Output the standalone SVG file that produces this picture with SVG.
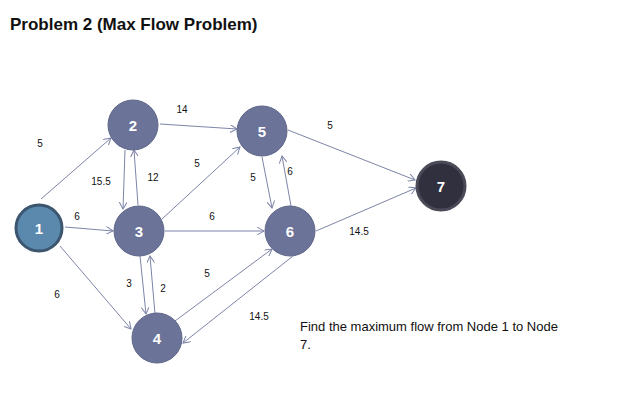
<svg xmlns="http://www.w3.org/2000/svg" width="641" height="407" viewBox="0 0 641 407">
<defs>
<marker id="a" markerWidth="8" markerHeight="8" refX="7" refY="4" orient="auto" markerUnits="userSpaceOnUse"><path d="M0,0 L7,4 L0,8" fill="none" stroke="#7d84a8" stroke-width="1"/></marker>
<style>
.e{stroke:#7d84a8;stroke-width:1;fill:none;marker-end:url(#a)}
.n{fill:#6b7399;stroke:#5e6688;stroke-width:1}
.t{font-family:"Liberation Sans",sans-serif;font-weight:bold;font-size:15px;fill:#fff;text-anchor:middle}
.l{font-family:"Liberation Sans",sans-serif;font-size:10px;fill:#111;text-anchor:middle}
</style>
</defs>
<rect width="641" height="407" fill="#fff"/>
<text x="10" y="30" font-family="Liberation Sans,sans-serif" font-weight="bold" font-size="17" fill="#111">Problem 2 (Max Flow Problem)</text>
<g id="connectors">
<line class="e" x1="41" y1="199" x2="111" y2="138"/>
<line class="e" x1="65" y1="227" x2="113" y2="231"/>
<line class="e" x1="60" y1="246" x2="131" y2="329"/>
<line class="e" x1="160" y1="124" x2="237" y2="129"/>
<line class="e" x1="125" y1="150" x2="123" y2="209"/>
<line class="e" x1="138" y1="205" x2="134" y2="150"/>
<line class="e" x1="162" y1="219" x2="240" y2="147"/>
<line class="e" x1="165" y1="231" x2="264" y2="231"/>
<line class="e" x1="140" y1="256" x2="146" y2="314"/>
<line class="e" x1="155" y1="314" x2="150" y2="256"/>
<line class="e" x1="175" y1="321" x2="272" y2="249"/>
<line class="e" x1="293" y1="256" x2="183" y2="343"/>
<line class="e" x1="262" y1="157" x2="272" y2="208"/>
<line class="e" x1="291" y1="206" x2="282" y2="156"/>
<line class="e" x1="288" y1="130" x2="415" y2="180"/>
<line class="e" x1="316" y1="231" x2="416" y2="188"/>
</g>
<g id="labels">
<text class="l" x="40" y="147">5</text>
<text class="l" x="77" y="220">6</text>
<text class="l" x="57" y="298">6</text>
<text class="l" x="182" y="113">14</text>
<text class="l" x="101" y="185">15.5</text>
<text class="l" x="153" y="181">12</text>
<text class="l" x="197" y="167">5</text>
<text class="l" x="212" y="220">6</text>
<text class="l" x="129" y="287">3</text>
<text class="l" x="163" y="292">2</text>
<text class="l" x="207" y="277">5</text>
<text class="l" x="259" y="320">14.5</text>
<text class="l" x="253" y="181">5</text>
<text class="l" x="290" y="175">6</text>
<text class="l" x="330" y="129">5</text>
<text class="l" x="359" y="235">14.5</text>
</g>
<g id="node1"><circle cx="39" cy="228" r="23" fill="#5b89ad" stroke="#3d5670" stroke-width="3"/><text class="t" x="39" y="234">1</text></g>
<g id="node2"><circle class="n" cx="133" cy="125" r="25"/><text class="t" x="133" y="131">2</text></g>
<g id="node3"><circle class="n" cx="139" cy="231" r="25"/><text class="t" x="139" y="237">3</text></g>
<g id="node4"><circle class="n" cx="157" cy="338" r="25"/><text class="t" x="157" y="344">4</text></g>
<g id="node5"><circle class="n" cx="262" cy="131" r="25"/><text class="t" x="262" y="137">5</text></g>
<g id="node6"><circle class="n" cx="290" cy="231" r="25"/><text class="t" x="290" y="237">6</text></g>
<g id="node7"><circle cx="441" cy="186" r="24" fill="#30303e" stroke="#4a4a58" stroke-width="3"/><text class="t" x="441" y="192">7</text></g>
<text font-family="Liberation Sans,sans-serif" font-size="13" fill="#111"><tspan x="300" y="331">Find the maximum flow from Node 1 to Node</tspan><tspan x="300" y="349">7.</tspan></text>
</svg>
